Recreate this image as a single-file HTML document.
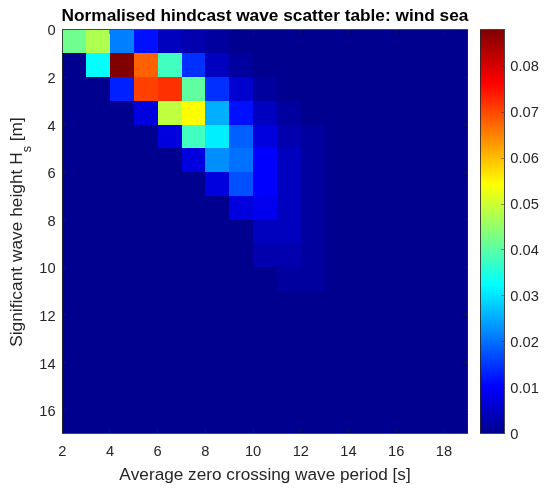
<!DOCTYPE html><html><head><meta charset="utf-8"><title>Wave scatter</title><style>
html,body{margin:0;padding:0;background:#fff;}
body{width:550px;height:492px;position:relative;overflow:hidden;font-family:"Liberation Sans",sans-serif;color:#262626;font-kerning:none;}
.t{position:absolute;white-space:nowrap;line-height:1;}
.tk{font-size:14.67px;}
.xt{transform:translateX(-50%);}
.yt{transform:translate(-100%,-50%);}
.ct{transform:translateY(-50%);}
.lab{font-size:16px;letter-spacing:0.55px;}
svg{position:absolute;left:0;top:0;}

</style></head><body>
<svg width="550" height="492" viewBox="0 0 550 492" shape-rendering="crispEdges">
<rect x="62.3" y="29.5" width="405.4" height="403.8" fill="#00008f"/>
<rect x="62.30" y="29.50" width="23.90" height="23.80" fill="#70ff8f"/>
<rect x="86.15" y="29.50" width="23.90" height="23.80" fill="#afff50"/>
<rect x="109.99" y="29.50" width="23.90" height="23.80" fill="#0080ff"/>
<rect x="133.84" y="29.50" width="23.90" height="23.80" fill="#0010ff"/>
<rect x="157.69" y="29.50" width="23.90" height="23.80" fill="#0000bf"/>
<rect x="181.54" y="29.50" width="23.90" height="23.80" fill="#0000af"/>
<rect x="205.38" y="29.50" width="23.90" height="23.80" fill="#00009f"/>
<rect x="86.15" y="53.25" width="23.90" height="23.80" fill="#00ffff"/>
<rect x="109.99" y="53.25" width="23.90" height="23.80" fill="#800000"/>
<rect x="133.84" y="53.25" width="23.90" height="23.80" fill="#ff6000"/>
<rect x="157.69" y="53.25" width="23.90" height="23.80" fill="#40ffbf"/>
<rect x="181.54" y="53.25" width="23.90" height="23.80" fill="#0030ff"/>
<rect x="205.38" y="53.25" width="23.90" height="23.80" fill="#0000bf"/>
<rect x="229.23" y="53.25" width="23.90" height="23.80" fill="#00009f"/>
<rect x="109.99" y="77.01" width="23.90" height="23.80" fill="#0020ff"/>
<rect x="133.84" y="77.01" width="23.90" height="23.80" fill="#ff4000"/>
<rect x="157.69" y="77.01" width="23.90" height="23.80" fill="#ff3000"/>
<rect x="181.54" y="77.01" width="23.90" height="23.80" fill="#60ff9f"/>
<rect x="205.38" y="77.01" width="23.90" height="23.80" fill="#0030ff"/>
<rect x="229.23" y="77.01" width="23.90" height="23.80" fill="#0000cf"/>
<rect x="253.08" y="77.01" width="23.90" height="23.80" fill="#00009f"/>
<rect x="133.84" y="100.76" width="23.90" height="23.80" fill="#0000df"/>
<rect x="157.69" y="100.76" width="23.90" height="23.80" fill="#bfff40"/>
<rect x="181.54" y="100.76" width="23.90" height="23.80" fill="#ffff00"/>
<rect x="205.38" y="100.76" width="23.90" height="23.80" fill="#00afff"/>
<rect x="229.23" y="100.76" width="23.90" height="23.80" fill="#0010ff"/>
<rect x="253.08" y="100.76" width="23.90" height="23.80" fill="#0000bf"/>
<rect x="276.92" y="100.76" width="23.90" height="23.80" fill="#00009f"/>
<rect x="157.69" y="124.51" width="23.90" height="23.80" fill="#0000df"/>
<rect x="181.54" y="124.51" width="23.90" height="23.80" fill="#40ffbf"/>
<rect x="205.38" y="124.51" width="23.90" height="23.80" fill="#00efff"/>
<rect x="229.23" y="124.51" width="23.90" height="23.80" fill="#0060ff"/>
<rect x="253.08" y="124.51" width="23.90" height="23.80" fill="#0000df"/>
<rect x="276.92" y="124.51" width="23.90" height="23.80" fill="#0000af"/>
<rect x="300.77" y="124.51" width="23.90" height="23.80" fill="#00009f"/>
<rect x="181.54" y="148.26" width="23.90" height="23.80" fill="#0000df"/>
<rect x="205.38" y="148.26" width="23.90" height="23.80" fill="#008fff"/>
<rect x="229.23" y="148.26" width="23.90" height="23.80" fill="#0070ff"/>
<rect x="253.08" y="148.26" width="23.90" height="23.80" fill="#0000ff"/>
<rect x="276.92" y="148.26" width="23.90" height="23.80" fill="#0000bf"/>
<rect x="300.77" y="148.26" width="23.90" height="23.80" fill="#00009f"/>
<rect x="205.38" y="172.02" width="23.90" height="23.80" fill="#0000df"/>
<rect x="229.23" y="172.02" width="23.90" height="23.80" fill="#0050ff"/>
<rect x="253.08" y="172.02" width="23.90" height="23.80" fill="#0000ff"/>
<rect x="276.92" y="172.02" width="23.90" height="23.80" fill="#0000bf"/>
<rect x="300.77" y="172.02" width="23.90" height="23.80" fill="#00009f"/>
<rect x="229.23" y="195.77" width="23.90" height="23.80" fill="#0000df"/>
<rect x="253.08" y="195.77" width="23.90" height="23.80" fill="#0000ef"/>
<rect x="276.92" y="195.77" width="23.90" height="23.80" fill="#0000bf"/>
<rect x="300.77" y="195.77" width="23.90" height="23.80" fill="#00009f"/>
<rect x="253.08" y="219.52" width="23.90" height="23.80" fill="#0000bf"/>
<rect x="276.92" y="219.52" width="23.90" height="23.80" fill="#0000bf"/>
<rect x="300.77" y="219.52" width="23.90" height="23.80" fill="#00009f"/>
<rect x="253.08" y="243.28" width="23.90" height="23.80" fill="#0000af"/>
<rect x="276.92" y="243.28" width="23.90" height="23.80" fill="#0000af"/>
<rect x="300.77" y="243.28" width="23.90" height="23.80" fill="#00009f"/>
<rect x="276.92" y="267.03" width="23.90" height="23.80" fill="#00009f"/>
<rect x="300.77" y="267.03" width="23.90" height="23.80" fill="#00009f"/>
<defs><linearGradient id="jet" x1="0" y1="1" x2="0" y2="0"><stop offset="0" stop-color="#00008f"/><stop offset="0.117" stop-color="#0000ff"/><stop offset="0.367" stop-color="#00ffff"/><stop offset="0.617" stop-color="#ffff00"/><stop offset="0.867" stop-color="#ff0000"/><stop offset="1" stop-color="#800000"/></linearGradient></defs>
<rect x="480.3" y="29.5" width="24.0" height="403.8" fill="url(#jet)"/>
<g stroke="#262626" stroke-width="1" fill="none" opacity="0.45">
<line x1="109.99" y1="433.3" x2="109.99" y2="429.3"/>
<line x1="109.99" y1="29.5" x2="109.99" y2="33.5"/>
<line x1="62.3" y1="77.01" x2="66.3" y2="77.01"/>
<line x1="467.7" y1="77.01" x2="463.7" y2="77.01"/>
<line x1="157.69" y1="433.3" x2="157.69" y2="429.3"/>
<line x1="157.69" y1="29.5" x2="157.69" y2="33.5"/>
<line x1="62.3" y1="124.51" x2="66.3" y2="124.51"/>
<line x1="467.7" y1="124.51" x2="463.7" y2="124.51"/>
<line x1="205.38" y1="433.3" x2="205.38" y2="429.3"/>
<line x1="205.38" y1="29.5" x2="205.38" y2="33.5"/>
<line x1="62.3" y1="172.02" x2="66.3" y2="172.02"/>
<line x1="467.7" y1="172.02" x2="463.7" y2="172.02"/>
<line x1="253.08" y1="433.3" x2="253.08" y2="429.3"/>
<line x1="253.08" y1="29.5" x2="253.08" y2="33.5"/>
<line x1="62.3" y1="219.52" x2="66.3" y2="219.52"/>
<line x1="467.7" y1="219.52" x2="463.7" y2="219.52"/>
<line x1="300.77" y1="433.3" x2="300.77" y2="429.3"/>
<line x1="300.77" y1="29.5" x2="300.77" y2="33.5"/>
<line x1="62.3" y1="267.03" x2="66.3" y2="267.03"/>
<line x1="467.7" y1="267.03" x2="463.7" y2="267.03"/>
<line x1="348.46" y1="433.3" x2="348.46" y2="429.3"/>
<line x1="348.46" y1="29.5" x2="348.46" y2="33.5"/>
<line x1="62.3" y1="314.54" x2="66.3" y2="314.54"/>
<line x1="467.7" y1="314.54" x2="463.7" y2="314.54"/>
<line x1="396.16" y1="433.3" x2="396.16" y2="429.3"/>
<line x1="396.16" y1="29.5" x2="396.16" y2="33.5"/>
<line x1="62.3" y1="362.04" x2="66.3" y2="362.04"/>
<line x1="467.7" y1="362.04" x2="463.7" y2="362.04"/>
<line x1="443.85" y1="433.3" x2="443.85" y2="429.3"/>
<line x1="443.85" y1="29.5" x2="443.85" y2="33.5"/>
<line x1="62.3" y1="409.55" x2="66.3" y2="409.55"/>
<line x1="467.7" y1="409.55" x2="463.7" y2="409.55"/>
<line x1="504.3" y1="387.47" x2="501.3" y2="387.47"/>
<line x1="504.3" y1="341.63" x2="501.3" y2="341.63"/>
<line x1="504.3" y1="295.80" x2="501.3" y2="295.80"/>
<line x1="504.3" y1="249.96" x2="501.3" y2="249.96"/>
<line x1="504.3" y1="204.13" x2="501.3" y2="204.13"/>
<line x1="504.3" y1="158.29" x2="501.3" y2="158.29"/>
<line x1="504.3" y1="112.46" x2="501.3" y2="112.46"/>
<line x1="504.3" y1="66.63" x2="501.3" y2="66.63"/>
</g>
<rect x="62.3" y="29.5" width="405.4" height="403.8" fill="none" stroke="#262626" stroke-width="1" opacity="0.85"/>
<rect x="480.3" y="29.5" width="24.0" height="403.8" fill="none" stroke="#262626" stroke-width="1" opacity="0.85"/>
</svg>
<div class="t" style="left:265.0px;top:7px;transform:translateX(-50%);font-weight:bold;font-size:17.27px;color:#000">Normalised hindcast wave scatter table: wind sea</div>
<div class="t tk" style="left:62.3px;top:444.0px;transform:translateX(-50%)">2</div>
<div class="t tk" style="left:110.0px;top:444.0px;transform:translateX(-50%)">4</div>
<div class="t tk" style="left:157.7px;top:444.0px;transform:translateX(-50%)">6</div>
<div class="t tk" style="left:205.4px;top:444.0px;transform:translateX(-50%)">8</div>
<div class="t tk" style="left:253.1px;top:444.0px;transform:translateX(-50%)">10</div>
<div class="t tk" style="left:300.8px;top:444.0px;transform:translateX(-50%)">12</div>
<div class="t tk" style="left:348.5px;top:444.0px;transform:translateX(-50%)">14</div>
<div class="t tk" style="left:396.2px;top:444.0px;transform:translateX(-50%)">16</div>
<div class="t tk" style="left:443.9px;top:444.0px;transform:translateX(-50%)">18</div>
<div class="t tk" style="left:55.6px;top:30.3px;transform:translate(-100%,-50%)">0</div>
<div class="t tk" style="left:55.6px;top:77.9px;transform:translate(-100%,-50%)">2</div>
<div class="t tk" style="left:55.6px;top:125.5px;transform:translate(-100%,-50%)">4</div>
<div class="t tk" style="left:55.6px;top:173.2px;transform:translate(-100%,-50%)">6</div>
<div class="t tk" style="left:55.6px;top:220.8px;transform:translate(-100%,-50%)">8</div>
<div class="t tk" style="left:55.6px;top:268.4px;transform:translate(-100%,-50%)">10</div>
<div class="t tk" style="left:55.6px;top:316.0px;transform:translate(-100%,-50%)">12</div>
<div class="t tk" style="left:55.6px;top:363.6px;transform:translate(-100%,-50%)">14</div>
<div class="t tk" style="left:55.6px;top:411.3px;transform:translate(-100%,-50%)">16</div>
<div class="t tk" style="left:510.3px;top:434.2px;transform:translateY(-50%)">0</div>
<div class="t tk" style="left:510.3px;top:388.2px;transform:translateY(-50%)">0.01</div>
<div class="t tk" style="left:510.3px;top:342.2px;transform:translateY(-50%)">0.02</div>
<div class="t tk" style="left:510.3px;top:296.2px;transform:translateY(-50%)">0.03</div>
<div class="t tk" style="left:510.3px;top:250.2px;transform:translateY(-50%)">0.04</div>
<div class="t tk" style="left:510.3px;top:204.1px;transform:translateY(-50%)">0.05</div>
<div class="t tk" style="left:510.3px;top:158.1px;transform:translateY(-50%)">0.06</div>
<div class="t tk" style="left:510.3px;top:112.1px;transform:translateY(-50%)">0.07</div>
<div class="t tk" style="left:510.3px;top:66.1px;transform:translateY(-50%)">0.08</div>
<div class="t" style="font-size:17.2px;left:265.0px;top:465.6px;transform:translateX(-50%)">Average zero crossing wave period [s]</div>
<div class="t" style="font-size:17.33px;left:16.9px;top:231.5px;transform:translate(-50%,-50%) rotate(-90deg)">Significant wave height H<span style="font-size:12.5px;position:relative;top:8.5px;">s</span> [m]</div>
</body></html>
